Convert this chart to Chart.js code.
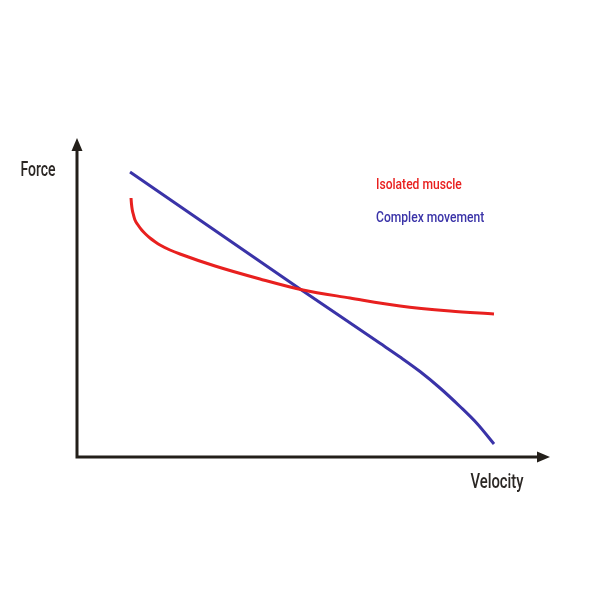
<!DOCTYPE html>
<html>
<head>
<meta charset="utf-8">
<script src="https://cdn.jsdelivr.net/npm/chart.js@4"></script>
<style>
html,body{margin:0;padding:0;background:#fff;}
#wrap{width:600px;height:600px;}
</style>
</head>
<body>
<div id="wrap"><canvas id="c" width="600" height="600"></canvas></div>
<script>
const isolatedX = [11.42, 11.52, 11.69, 11.95, 12.26, 12.90, 13.68, 14.48, 15.43, 16.49, 17.55, 19.66, 21.78, 29.18, 38.69, 47.78, 57.72, 68.29, 78.86, 88.16];
const isolatedY = [81.19, 79.31, 77.43, 75.86, 74.29, 72.73, 71.16, 69.91, 68.65, 67.49, 66.46, 64.89, 63.64, 59.87, 55.80, 52.35, 49.84, 47.34, 45.77, 44.83];
const complexX = [11.21, 47.15, 64.06, 68.29, 72.52, 76.74, 80.97, 84.57, 88.16];
const complexY = [89.34, 52.66, 35.64, 31.35, 26.80, 21.63, 15.83, 10.50, 4.08];
const seriesLabels = ['Isolated muscle', 'Complex movement'];
const seriesColors = ['#e8201f', '#3a33a8'];
const axisTitles = ['Force', 'Velocity'];

const FONT = '"Roboto", sans-serif';

function pts(xs, ys){ return xs.map((x,i)=>({x:x, y:ys[i]})); }

function narrowText(ctx, text, x, y, sx, align){
  ctx.save();
  ctx.translate(x, y);
  ctx.scale(sx, 1);
  ctx.textAlign = align;
  ctx.fillText(text, 0, 0);
  ctx.restore();
}

const decor = {
  id:'decor',
  afterDraw(chart){
    const ctx = chart.ctx, a = chart.chartArea;
    const sx = chart.scales.x, sy = chart.scales.y;
    const x0 = sx.getPixelForValue(0), y0 = sy.getPixelForValue(0);
    ctx.save();
    ctx.strokeStyle = '#231f1a';
    ctx.fillStyle = '#231f1a';
    ctx.lineWidth = 3;
    ctx.beginPath();
    ctx.moveTo(x0, a.top + 10);
    ctx.lineTo(x0, y0);
    ctx.lineTo(a.right - 10, y0);
    ctx.stroke();
    ctx.beginPath();
    ctx.moveTo(x0, a.top);
    ctx.lineTo(x0 - 5.5, a.top + 13);
    ctx.lineTo(x0 + 5.5, a.top + 13);
    ctx.closePath(); ctx.fill();
    ctx.beginPath();
    ctx.moveTo(a.right, y0);
    ctx.lineTo(a.right - 13, y0 - 5.5);
    ctx.lineTo(a.right - 13, y0 + 5.5);
    ctx.closePath(); ctx.fill();

    ctx.textBaseline = 'alphabetic';
    ctx.font = '500 20px ' + FONT;
    ctx.fillStyle = '#2b2724';
    narrowText(ctx, axisTitles[0], 38, 176, 0.7, 'center');
    narrowText(ctx, axisTitles[1], 497, 488, 0.74, 'center');

    ctx.font = '500 15.5px ' + FONT;
    chart.data.datasets.forEach((ds,i)=>{
      ctx.fillStyle = ds.borderColor;
      narrowText(ctx, ds.label, 376, 188.5 + i*33.3, 0.78, 'left');
    });
    ctx.restore();
  }
};

new Chart(document.getElementById('c'), {
  type:'line',
  data:{
    datasets:[
      {label:seriesLabels[0], data:pts(isolatedX, isolatedY), borderColor:seriesColors[0], borderWidth:3, pointRadius:0, cubicInterpolationMode:'monotone', fill:false},
      {label:seriesLabels[1], data:pts(complexX, complexY), borderColor:seriesColors[1], borderWidth:3, pointRadius:0, cubicInterpolationMode:'monotone', fill:false}
    ]
  },
  options:{
    responsive:false,
    animation:false,
    layout:{padding:{left:77, right:50, top:138, bottom:143}},
    plugins:{legend:{display:false}, tooltip:{enabled:false}},
    scales:{
      x:{type:'linear', min:0, max:100, display:false},
      y:{type:'linear', min:0, max:100, display:false}
    }
  },
  plugins:[decor]
});
</script>
</body>
</html>
